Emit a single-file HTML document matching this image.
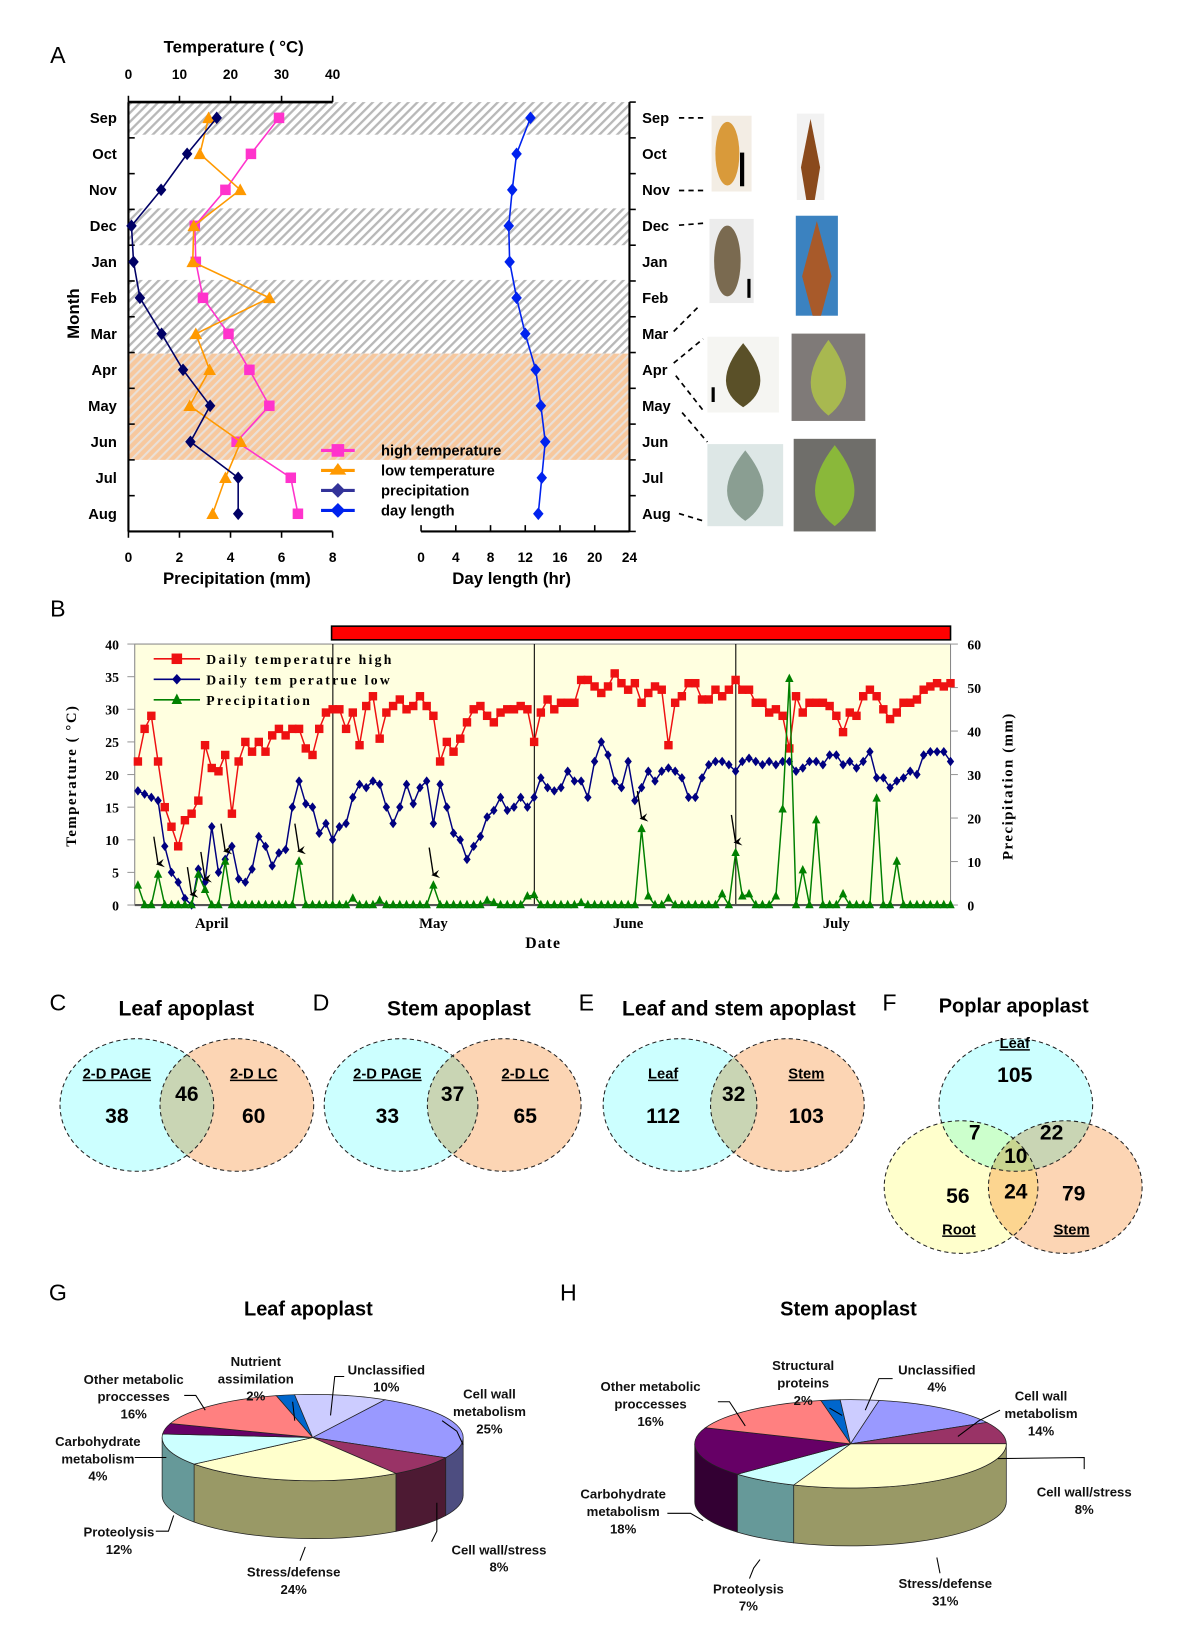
<!DOCTYPE html>
<html><head><meta charset="utf-8">
<style>
html,body{margin:0;padding:0;background:#fff;}
svg{display:block;}
text{font-family:"Liberation Sans",Arial,sans-serif;}
.ser{font-family:"Liberation Serif","Times New Roman",serif;}
</style></head>
<body>
<svg id="fig" width="1200" height="1648" viewBox="0 0 1140 1566" preserveAspectRatio="none" xmlns="http://www.w3.org/2000/svg">
<defs>
<pattern id="hatchGray" width="6" height="6" patternUnits="userSpaceOnUse" patternTransform="rotate(45)">
<rect width="6" height="6" fill="#fff"/><rect width="2.2" height="6" fill="#b8b8b8"/></pattern>
<pattern id="hatchOrange" width="6" height="6" patternUnits="userSpaceOnUse" patternTransform="rotate(45)">
<rect width="6" height="6" fill="#f7c89e"/><rect width="2" height="6" fill="#e9e0d8"/></pattern>
<marker id="arrowHead" markerWidth="8" markerHeight="8" refX="4" refY="6" orient="auto" markerUnits="userSpaceOnUse" viewBox="0 0 8 8"><path d="M0,0 L4,8 L8,0 L4,3 Z" fill="#000"/></marker>
</defs>
<g id="panelA"></g>
<g id="photos"></g>
<g id="panelB"></g>
<g id="venn"></g>
<g id="pies"></g>
</svg>
<script>
// ---------- Panel A data ----------
const monthsA = ["Sep","Oct","Nov","Dec","Jan","Feb","Mar","Apr","May","Jun","Jul","Aug"];
const highTempA = [29.5,24,19,13,13.2,14.6,19.6,23.7,27.6,21.2,31.8,33.2];
const lowTempA = [15.7,14,21.9,12.8,12.6,27.6,13.2,15.9,12,22,19,16.5];
const precipA = [3.46,2.3,1.28,0.12,0.2,0.45,1.3,2.14,3.2,2.43,4.3,4.3];
const dayLenA = [12.6,11.0,10.5,10.1,10.2,11.0,12.0,13.2,13.8,14.3,13.9,13.5];
const tempTicksA = [0,10,20,30,40];
const precipTicksA = [0,2,4,6,8];
const dayTicksA = [0,4,8,12,16,20,24];

// ---------- Panel B data (Apr 1 - Jul 31) ----------
const dailyHigh = [22,27,29,22,15,12,9,13,14,16,
24.5,21,20.5,23,14,22,25,23.5,25,23.5,
26,27,26,27,27,24,23,27,29.5,30,
30,27,29.5,24.5,30.5,32,25.5,29.5,30.5,31.5,
30,30.5,32,30.5,29,22,25,23.5,25.5,28,
30,30.5,29,28,29.5,30,30,30.5,30,25,
29.5,31.5,30,31,31,31,34.5,34.5,33.5,32.5,
33.5,35.5,34,33,34,31,32.5,33.5,33,24.5,
31,32,34,34,31.5,31.5,33,32,33,34.5,
33,33,31,31,29.5,30,29,24,32,29.5,
31,31,31,30.5,29,26.5,29.5,29,32,33,
32,30,28.5,29.5,31,31,31.5,33,33.5,34,
33.5,34];
const dailyLow = [17.5,17,16.5,16,9,5,3.5,1,0,5.5,
3.5,12,5,7,9,4,3.5,5.5,10.5,9,
6,8,8.5,15,19,15.5,15,11,12.5,10,
12,12.5,16.5,18.5,18,19,18.5,15,12.5,15,
18.5,15.5,18,19,12.5,18.5,15,11,10,7,
9,10.5,13.5,14.5,16.5,14.5,15,16.5,15,16.5,
19.5,18,17.5,18,20.5,19,19,16.5,22,25,
23,19,18,22,16,18,20.5,19,20.5,21,
20.5,19.5,16.5,16.5,19.5,21.5,22,22,21.5,20.5,
22,22.5,22,21.5,22,21.5,22,22,20.5,21,
22,22,21.5,23,23,21.5,22,21,22,23.5,
19.5,19.5,18,19,19.5,20.5,20,23,23.5,23.5,
23.5,22];
const dailyPrecip = [4.5,0,0,7,0,0,0,0,0,7,
3.5,0,0,10,0,0,0,0,0,0,
0,0,0,0,10,0,0,0,0,0,
0,0,1.5,0,0,0,1,0,0,0,
0,0,0,0,4.5,0,0,0,0,0,
0,0,1,0.5,0,0,0,0,2,2.3,
0,0,0,0,0,0,0.5,0,0,0,
0,0,0,0,0,17.5,2,0,0,1.5,
0,0,0,0,0,0,0,2.5,0,12,
2,2.5,0,0,0,2,22,52,0,8,
0,19.5,0,0,0,2.5,0,0,0,0,
24.5,0,0,10,0,0,0,0,0,0,
0,0];
const tempTicksB = [0,5,10,15,20,25,30,35,40];
const precipTicksB = [0,10,20,30,40,50,60];
const monthLabelsB = ["April","May","June","July"];
const monthDayB = [11,44,73,104];
const monthStartB = [29,59,89];
const arrowDaysB = [3,8,10,13,24,44,75,89];

// ---------- Venn data ----------
const vennC = [38,46,60];
const vennD = [33,37,65];
const vennE = [112,32,103];
const vennF = [105,7,22,10,56,24,79];

// ---------- Pie data ----------
const pieGNames = ["Nutrient assimilation","Unclassified","Cell wall metabolism","Cell wall/stress","Stress/defense","Proteolysis","Carbohydrate metabolism","Other metabolic proccesses"];
const pieGValues = [2,10,25,8,24,12,4,16];
const pieHNames = ["Structural proteins","Unclassified","Cell wall metabolism","Cell wall/stress","Stress/defense","Proteolysis","Carbohydrate metabolism","Other metabolic proccesses"];
const pieHValues = [2,4,14,8,31,7,18,16];

const NS="http://www.w3.org/2000/svg";
function el(tag, parent, attrs){const e=document.createElementNS(NS,tag);for(const k in attrs)e.setAttribute(k,attrs[k]);parent.appendChild(e);return e;}
function txt(parent,x,y,s,size,anchor,extra){const t=el('text',parent,Object.assign({x:x,y:y,'font-size':size,'text-anchor':anchor||'middle',fill:'#000'},extra||{}));t.textContent=s;return t;}

// ================= PANEL A =================
(function(){
const g=document.getElementById('panelA');
const mY=i=>112+i*34.2;
const pX=v=>122+v*24.25;
const tX=v=>122+v*4.85;
const dX=v=>400+v*8.25;
const top=97,bot=505;
let t=txt(g,55,60,'A',22,'middle');

const bands=[[97,128,'url(#hatchGray)'],[198,233,'url(#hatchGray)'],[266,336,'url(#hatchGray)'],[336,437,'url(#hatchOrange)']];
bands.forEach(b=>{const r=el('rect',g,{x:122,y:b[0],width:476,height:b[1]-b[0],fill:b[2]});
});
let a=el('line',g,{x1:122,y1:top,x2:316,y2:top,stroke:'#000','stroke-width':2.5});

a=el('line',g,{x1:122,y1:top,x2:122,y2:bot,stroke:'#000','stroke-width':2});

a=el('line',g,{x1:598,y1:top,x2:598,y2:bot,stroke:'#000','stroke-width':2});

a=el('line',g,{x1:122,y1:bot,x2:316,y2:bot,stroke:'#000','stroke-width':2});

a=el('line',g,{x1:400,y1:bot,x2:598,y2:bot,stroke:'#000','stroke-width':2});

for(let i=0;i<=12;i++){const y=97+i*34;el('line',g,{x1:122,y1:y,x2:128,y2:y,stroke:'#000','stroke-width':1.5});el('line',g,{x1:598,y1:y,x2:604,y2:y,stroke:'#000','stroke-width':1.5});}
tempTicksA.forEach(v=>{el('line',g,{x1:tX(v),y1:top,x2:tX(v),y2:top-6,stroke:'#000','stroke-width':1.5});
const l=txt(g,tX(v),75,String(v),13,'middle',{'font-weight':'bold'});});
precipTicksA.forEach(v=>{el('line',g,{x1:pX(v),y1:bot,x2:pX(v),y2:bot+6,stroke:'#000','stroke-width':1.5});
const l=txt(g,pX(v),534,String(v),13,'middle',{'font-weight':'bold'});});
dayTicksA.forEach(v=>{el('line',g,{x1:dX(v),y1:bot,x2:dX(v),y2:bot-6,stroke:'#000','stroke-width':1.5});
const l=txt(g,dX(v),534,String(v),13,'middle',{'font-weight':'bold'});});
t=txt(g,222,50,'Temperature ( °C)',16,'middle',{'font-weight':'bold'});
t=txt(g,225,555,'Precipitation (mm)',16,'middle',{'font-weight':'bold'});
t=txt(g,486,555,'Day length (hr)',16,'middle',{'font-weight':'bold'});
t=txt(g,0,0,'Month',16,'middle',{'font-weight':'bold',transform:'translate(75,298) rotate(-90)'});
monthsA.forEach((m,i)=>{let l=txt(g,111,mY(i)+5,m,14,'end',{'font-weight':'bold'});
l=txt(g,610,mY(i)+5,m,14,'start',{'font-weight':'bold'});});
function series(vals,xf,color,shape,name,lw){
 const pts=vals.map((v,i)=>[xf(v),mY(i)]);
 const pl=el('polyline',g,{points:pts.map(p=>p.join(',')).join(' '),fill:'none',stroke:color,'stroke-width':lw||1.5});
 
 pts.forEach(p=>{let m;
  if(shape==='sq')m=el('rect',g,{x:p[0]-5,y:p[1]-5,width:10,height:10,fill:color});
  else if(shape==='tri')m=el('path',g,{d:`M${p[0]},${p[1]-6} L${p[0]+6},${p[1]+5} L${p[0]-6},${p[1]+5}Z`,fill:color});
  else m=el('path',g,{d:`M${p[0]},${p[1]-6} L${p[0]+5},${p[1]} L${p[0]},${p[1]+6} L${p[0]-5},${p[1]}Z`,fill:color});
  });
}
series(highTempA,tX,'#ff33cc','sq','high-temperature');
series(lowTempA,tX,'#ff9900','tri','low-temperature');
series(precipA,pX,'#000066','dia','precipitation');
series(dayLenA,dX,'#0022ee','dia','day-length');
const leg=[['high temperature','#ff33cc','sq'],['low temperature','#ff9900','tri'],['precipitation','#333399','dia'],['day length','#0022ee','dia']];
leg.forEach((L,i)=>{const y=428+i*19;const gg=el('g',g,{});
 
 el('line',gg,{x1:305,y1:y,x2:337,y2:y,stroke:L[1],'stroke-width':3});
 const x=321;
 if(L[2]==='sq')el('rect',gg,{x:x-6,y:y-6,width:12,height:12,fill:L[1]});
 else if(L[2]==='tri')el('path',gg,{d:`M${x},${y-7} L${x+8},${y+4} L${x-8},${y+4}Z`,fill:L[1]});
 else el('path',gg,{d:`M${x},${y-7} L${x+7},${y} L${x},${y+7} L${x-7},${y}Z`,fill:L[1]});
 txt(gg,362,y+5,L[0],14,'start',{'font-weight':'bold'});});
const dl=[[645,112,670,112],[645,181,670,181],[645,214,670,212],[640,315,665,290],[640,345,668,322],[642,357,668,390],[648,392,672,420],[645,488,668,495]];
dl.forEach(d=>{const l=el('line',g,{x1:d[0],y1:d[1],x2:d[2],y2:d[3],stroke:'#000','stroke-width':1.6,'stroke-dasharray':'5,4'});
 });
})();

// ================= PHOTOS =================
(function(){
const g=document.getElementById('photos');
const ph=[[676,110,38,72,'#f3ede4','#d99a3a','ellipse'],[757,108,26,82,'#f2f2f2','#8a4a1c','bud'],
[674,208,42,80,'#ececec','#7a6a50','ellipse'],[756,205,40,95,'#3b82c0','#a85a2a','bud'],
[672,320,68,72,'#f5f5f2','#5a5028','leaf'],[752,317,70,83,'#7f7a78','#a8b850','leaf'],
[672,422,72,78,'#dde7e6','#8a9e92','leaf'],[754,417,78,88,'#6f6e6a','#8ab83a','leaf']];
ph.forEach(p=>{const gg=el('g',g,{});
 el('rect',gg,{x:p[0],y:p[1],width:p[2],height:p[3],fill:p[4]});
 const cx=p[0]+p[2]/2,cy=p[1]+p[3]/2;
 if(p[6]==='ellipse')el('ellipse',gg,{cx:cx-4,cy:cy,rx:p[2]*0.3,ry:p[3]*0.42,fill:p[5]});
 else if(p[6]==='bud')el('path',gg,{d:`M${cx},${p[1]+5} L${cx+p[2]*0.35},${cy+10} L${cx+4},${p[1]+p[3]} L${cx-4},${p[1]+p[3]} L${cx-p[2]*0.35},${cy+10}Z`,fill:p[5]});
 else el('path',gg,{d:`M${cx},${p[1]+6} Q${cx+p[2]*0.48},${cy+10} ${cx},${p[1]+p[3]-5} Q${cx-p[2]*0.48},${cy+10} ${cx},${p[1]+6}Z`,fill:p[5]});
});
el('rect',g,{x:703,y:145,width:4,height:32,fill:'#000'});
el('rect',g,{x:710,y:265,width:3,height:18,fill:'#000'});
el('rect',g,{x:676,y:368,width:3,height:14,fill:'#000'});
})();

// ================= PANEL B =================
(function(){
const g=document.getElementById('panelB');
const bx=i=>131+i*6.38;
const by=v=>860-v*6.2;
const bp=v=>860-v*4.133;
let t=txt(g,55,586,'B',22,'middle');
let r=el('rect',g,{x:315,y:595,width:588,height:13,fill:'#ff0000',stroke:'#000','stroke-width':1.5});

r=el('rect',g,{x:128,y:612,width:775,height:248,fill:'#ffffe0',stroke:'#888','stroke-width':1});

monthStartB.forEach(d=>{const l=el('line',g,{x1:bx(d+0.5)-3,y1:612,x2:bx(d+0.5)-3,y2:860,stroke:'#000','stroke-width':1});
 });
el('line',g,{x1:128,y1:860,x2:903,y2:860,stroke:'#555','stroke-width':2});
tempTicksB.forEach(v=>{el('line',g,{x1:121,y1:by(v),x2:128,y2:by(v),stroke:'#999'});
 const l=txt(g,113,by(v)+5,String(v),13,'end',{'class':'ser','font-weight':'bold'});});
precipTicksB.forEach(v=>{el('line',g,{x1:903,y1:bp(v),x2:910,y2:bp(v),stroke:'#999'});
 const l=txt(g,919,bp(v)+5,String(v),13,'start',{'class':'ser','font-weight':'bold'});});
monthLabelsB.forEach((m,i)=>{const l=txt(g,bx(monthDayB[i]),882,m,14,'middle',{'class':'ser','font-weight':'bold'});});
t=txt(g,516,901,'Date',15,'middle',{'class':'ser','font-weight':'bold','letter-spacing':'1'});
t=txt(g,0,0,'Temperature (   °C)',14,'middle',{'class':'ser','font-weight':'bold','letter-spacing':'1.5',transform:'translate(72,737) rotate(-90)'});
t=txt(g,0,0,'Precipitation (mm)',14,'middle',{'class':'ser','font-weight':'bold','letter-spacing':'1.5',transform:'translate(962,747) rotate(-90)'});
function ser(vals,yf,color,shape,name){
 const pts=vals.map((v,i)=>[bx(i),yf(v)]);
 const pl=el('polyline',g,{points:pts.map(p=>p.join(',')).join(' '),fill:'none',stroke:color,'stroke-width':1.4});
 
 pts.forEach(p=>{let m;
  if(shape==='sq')m=el('rect',g,{x:p[0]-4,y:p[1]-4,width:8,height:8,fill:color});
  else if(shape==='tri')m=el('path',g,{d:`M${p[0]},${p[1]-5} L${p[0]+4},${p[1]+3} L${p[0]-4},${p[1]+3}Z`,fill:color});
  else m=el('path',g,{d:`M${p[0]},${p[1]-4.5} L${p[0]+3.5},${p[1]} L${p[0]},${p[1]+4.5} L${p[0]-3.5},${p[1]}Z`,fill:color});
  });
}
ser(dailyHigh,by,'#ee1111','sq','daily-high');
ser(dailyLow,by,'#000080','dia','daily-low');
ser(dailyPrecip,bp,'#008000','tri','daily-precipitation');
arrowDaysB.forEach(d=>{const x=bx(d),y=bp(dailyPrecip[d])-10;
 const a=el('line',g,{x1:x-4,y1:y-26,x2:x,y2:y,stroke:'#000','stroke-width':1.3,'marker-end':'url(#arrowHead)'});
 });
const leg=[['Daily temperature high','#ee1111','sq'],['Daily tem peratrue low','#000080','dia'],['Precipitation','#008000','tri']];
leg.forEach((L,i)=>{const y=626+i*19.5;const gg=el('g',g,{});
 el('line',gg,{x1:146,y1:y,x2:190,y2:y,stroke:L[1],'stroke-width':1.5});
 const x=168;
 if(L[2]==='sq')el('rect',gg,{x:x-5,y:y-5,width:10,height:10,fill:L[1]});
 else if(L[2]==='tri')el('path',gg,{d:`M${x},${y-6} L${x+5},${y+4} L${x-5},${y+4}Z`,fill:L[1]});
 else el('path',gg,{d:`M${x},${y-5} L${x+4.5},${y} L${x},${y+5} L${x-4.5},${y}Z`,fill:L[1]});
 txt(gg,196,y+5,L[0],13,'start',{'class':'ser','font-weight':'bold','letter-spacing':'2.2'});});
})();

// ================= VENN =================
(function(){
const g=document.getElementById('venn');
const RX=73,RY=63;
function circ(p,cx,cy,fill){const c=el('ellipse',p,{cx:cx,cy:cy,rx:RX,ry:RY,fill:fill,style:'mix-blend-mode:multiply'});return c;}
function outline(p,cx,cy){el('ellipse',p,{cx:cx,cy:cy,rx:RX,ry:RY,fill:'none',stroke:'#222','stroke-width':1,'stroke-dasharray':'4,3'});}
function num(p,x,y,v,name){const t=txt(p,x,y,String(v),20,'middle',{'font-weight':'bold'});}
function lab(p,x,y,s){const t=txt(p,x,y,s,14,'middle',{'font-weight':'bold','text-decoration':'underline'});}
function pan(letter,lx,title,tx,c1,c2,labs,vals){
 const p=el('g',g,{style:'isolation:isolate'});
 let t=txt(p,lx,960,letter,22,'middle');
 t=txt(p,tx,965,title,20,'middle',{'font-weight':'bold'});
 circ(p,c1,1050,'#ccffff');circ(p,c2,1050,'#fcd5b4');
 outline(p,c1,1050);outline(p,c2,1050);
 lab(p,labs[0][0],1025,labs[0][1]);lab(p,labs[1][0],1025,labs[1][1]);
 num(p,labs[0][0],1067,vals[0],'venn-count-left');num(p,(c1+c2)/2,1046,vals[1],'venn-count-overlap');num(p,labs[1][0],1067,vals[2],'venn-count-right');
}
pan('C',55,'Leaf apoplast',177,130,225,[[111,'2-D PAGE'],[241,'2-D LC']],vennC);
pan('D',305,'Stem apoplast',436,381,479,[[368,'2-D PAGE'],[499,'2-D LC']],vennD);
pan('E',557,'Leaf and stem apoplast',702,646,748,[[630,'Leaf'],[766,'Stem']],vennE);
const p=el('g',g,{style:'isolation:isolate'});
let t=txt(p,845,960,'F',22,'middle');
t=txt(p,963,962,'Poplar apoplast',19,'middle',{'font-weight':'bold'});
circ(p,965,1050,'#ccffff');circ(p,913,1128,'#ffffcc');circ(p,1012,1128,'#fcd5b4');
outline(p,965,1050);outline(p,913,1128);outline(p,1012,1128);
lab(p,964,996,'Leaf');lab(p,911,1173,'Root');lab(p,1018,1173,'Stem');
const fpos=[[964,1028],[926,1083],[999,1083],[965,1105],[910,1143],[965,1139],[1020,1141]];
vennF.forEach((v,i)=>num(p,fpos[i][0],fpos[i][1],v,'venn-count'));
})();

// ================= PIES =================
(function(){
const g=document.getElementById('pies');
const top=['#0066cc','#ccccff','#9999ff','#993366','#ffffcc','#ccffff','#660066','#ff8080'];
const side=['#003366','#8080a0','#4d4d80','#4d1a33','#999966','#669999','#330033','#994d4d'];
function pie(cx,cy,rx,ry,depth,start,vals,names,pname){
 const p=el('g',g,{});
 const tot=vals.reduce((a,b)=>a+b,0);
 const P=(a,dy)=>[cx+rx*Math.cos(a*Math.PI/180),cy+(dy||0)+ry*Math.sin(a*Math.PI/180)];
 let a=start;const sl=[];
 vals.forEach(v=>{const a2=a+v/tot*360;sl.push([a,a2]);a=a2;});
 sl.forEach((s,i)=>{
  for(let k=-1;k<=2;k++){const lo=Math.max(s[0],k*360),hi=Math.min(s[1],k*360+180);
   if(hi>lo){const p1=P(lo),p2=P(hi),q2=P(hi,depth),q1=P(lo,depth);
    const sp=el('path',p,{d:`M${p1} A${rx},${ry} 0 0 1 ${p2} L${q2} A${rx},${ry} 0 0 0 ${q1}Z`,fill:side[i],stroke:'#222','stroke-width':0.7});
    }}
 });
 sl.forEach((s,i)=>{const p1=P(s[0]),p2=P(s[1]);const large=(s[1]-s[0])>180?1:0;
  const sp=el('path',p,{d:`M${cx},${cy} L${p1} A${rx},${ry} 0 ${large} 1 ${p2}Z`,fill:top[i],stroke:'#222','stroke-width':0.7});
  });
}
pie(297,1366,143,41,55,-104,pieGValues,pieGNames,'leaf-apoplast-pie');
pie(808,1372,148,42,55,-101,pieHValues,pieHNames,'stem-apoplast-pie');
function lbl(lines,x,y,name){const gg=el('g',g,{});
 lines.forEach((s,i)=>txt(gg,x,y+i*16.5,s,12.5,'middle',{'font-weight':'bold','fill':'#111'}));}
function lead(pts){const l=el('polyline',g,{points:pts,fill:'none',stroke:'#000','stroke-width':1});}
let t=txt(g,55,1236,'G',22,'middle');
t=txt(g,293,1250,'Leaf apoplast',19,'middle',{'font-weight':'bold'});
t=txt(g,540,1236,'H',22,'middle');
t=txt(g,806,1250,'Stem apoplast',19,'middle',{'font-weight':'bold'});
lbl(['Nutrient','assimilation',pieGValues[0]+'%'],243,1298,'label-nutrient');
lbl(['Unclassified',pieGValues[1]+'%'],367,1306,'label-unclassified');
lbl(['Cell wall','metabolism',pieGValues[2]+'%'],465,1329,'label-cell-wall-metabolism');
lbl(['Cell wall/stress',pieGValues[3]+'%'],474,1477,'label-cell-wall-stress');
lbl(['Stress/defense',pieGValues[4]+'%'],279,1498,'label-stress-defense');
lbl(['Proteolysis',pieGValues[5]+'%'],113,1460,'label-proteolysis');
lbl(['Carbohydrate','metabolism',pieGValues[6]+'%'],93,1374,'label-carbohydrate');
lbl(['Other metabolic','proccesses',pieGValues[7]+'%'],127,1315,'label-other-metabolic');
lead('278,1332 280,1350');lead('327,1308 318,1308 314,1345');lead('440,1373 434,1360 420,1350');lead('410,1465 415,1455 415,1428');
lead('285,1483 290,1470');lead('148,1455 160,1455 165,1440');lead('128,1385 158,1385');lead('175,1326 186,1326 195,1340');
lbl(['Structural','proteins',pieHValues[0]+'%'],763,1302,'label-structural');
lbl(['Unclassified',pieHValues[1]+'%'],890,1306,'label-unclassified');
lbl(['Cell wall','metabolism',pieHValues[2]+'%'],989,1331,'label-cell-wall-metabolism');
lbl(['Cell wall/stress',pieHValues[3]+'%'],1030,1422,'label-cell-wall-stress');
lbl(['Stress/defense',pieHValues[4]+'%'],898,1509,'label-stress-defense');
lbl(['Proteolysis',pieHValues[5]+'%'],711,1514,'label-proteolysis');
lbl(['Carbohydrate','metabolism',pieHValues[6]+'%'],592,1424,'label-carbohydrate');
lbl(['Other metabolic','proccesses',pieHValues[7]+'%'],618,1322,'label-other-metabolic');
lead('788,1338 800,1345');lead('848,1310 835,1310 822,1340');lead('950,1340 930,1350 910,1365');lead('1030,1396 1030,1385 948,1386');
lead('893,1495 890,1480');lead('712,1500 716,1490 722,1482');lead('634,1438 656,1438 668,1445');lead('682,1332 693,1332 708,1355');
})();
</script>
</body></html>
